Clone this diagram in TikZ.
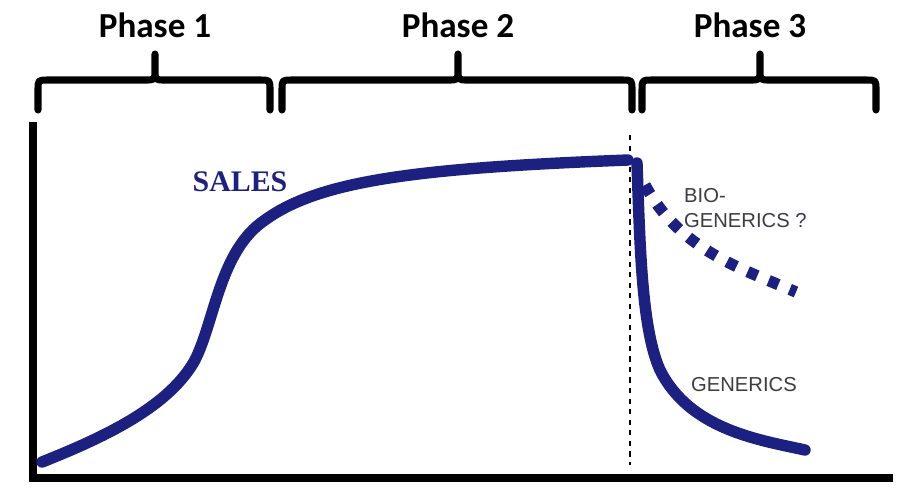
\documentclass[tikz,border=0pt]{standalone}
\usepackage{fontspec}
\setmainfont{Carlito}
\newfontfamily\arialf{Liberation Sans}
\newfontfamily\serf{Liberation Serif}
\begin{document}
\begin{tikzpicture}[x=0.02cm,y=-0.02cm]
\definecolor{navy}{RGB}{28,32,128}
\definecolor{txtgray}{RGB}{60,60,70}
\tikzset{brace/.style={line width=4pt,line join=round,line cap=round},
 curve/.style={navy,line width=6.5pt,line cap=round},
 ph/.style={font=\bfseries\fontsize{20}{24}\selectfont},
 lbl/.style={txtgray,font=\arialf\fontsize{11.5}{14}\selectfont,align=left,anchor=west}}
\useasboundingbox (0,0) rectangle (913,498);
\fill[white] (0,0) rectangle (913,498);
\newcommand\mybrace[3]{%
\draw[brace] (#1,110) -- (#1,90) .. controls (#1,80) .. (#1+10,80) -- (#2-10,80) .. controls (#2,80) .. (#2,70) -- (#2,54)
 (#2,70) .. controls (#2,80) .. (#2+10,80) -- (#3-10,80) .. controls (#3,80) .. (#3,90) -- (#3,110);}
\mybrace{38}{155}{270}
\mybrace{282}{458}{632}
\mybrace{642}{760}{876}
\node[ph] (p1) at (155,25) {Phase 1};
\node[ph] (p2) at (458,25) {Phase 2};
\node[ph] (p3) at (750,25) {Phase 3};
\draw[line width=4pt] (33,122) -- (33,478) -- (893,478);
\draw[dashed,line width=0.8pt] (630,135) -- (630,465);
\draw[curve] (42,462) .. controls (110,435) and (170,405) .. (195,360)
 .. controls (215,320) and (220,250) .. (265,220)
 .. controls (320,180) and (420,168) .. (628,160);
\draw[curve] (637,163) .. controls (640,250) and (642,330) .. (660,370)
 .. controls (690,430) and (760,440) .. (805,450);
\draw[navy,line width=6.5pt,dash pattern=on 6pt off 7pt] (645,185) .. controls (680,250) and (740,268) .. (796,292);
\node[navy,font=\serf\bfseries\fontsize{17}{20}\selectfont] (s) at (240,182) {SALES};
\node[lbl] (b) at (678,208) {BIO-\\GENERICS ?};
\node[lbl] (g) at (685,385) {GENERICS};
\end{tikzpicture}
\end{document}
